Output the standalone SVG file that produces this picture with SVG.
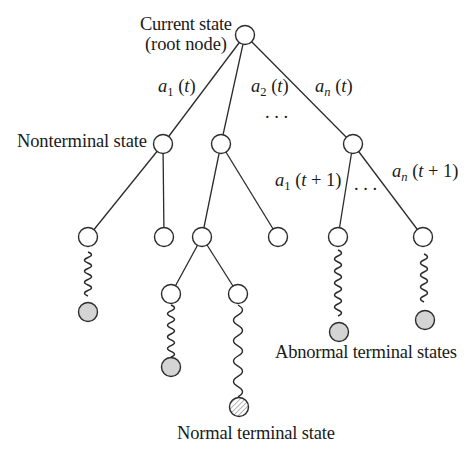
<svg xmlns="http://www.w3.org/2000/svg" width="474" height="457" viewBox="0 0 474 457">
<style>
  .edge { stroke:#2b2b2b; stroke-width:1.3; fill:none; }
  .wave { stroke:#2b2b2b; stroke-width:1.4; fill:none; }
  .node { stroke:#2b2b2b; stroke-width:1.4; fill:#ffffff; }
  .abn { stroke:#2b2b2b; stroke-width:1.4; fill:#d4d4d4; }
  .norm { stroke:#2b2b2b; stroke-width:1.4; fill:url(#hatch); }
  text { font-family:"Liberation Serif","Times New Roman",serif; font-size:18.5px; fill:#1a1a1a; }
  .it { font-style:italic; }
  .sub { font-size:12.5px; }
</style>
<defs>
  <pattern id="hatch" patternUnits="userSpaceOnUse" width="3.5" height="3.5" patternTransform="rotate(45)">
    <rect width="3.5" height="3.5" fill="#ffffff"/>
    <line x1="0" y1="0" x2="0" y2="3.5" stroke="#8a8a8a" stroke-width="1.2"/>
  </pattern>
</defs>
<g id="connectors">
  <line class="edge" x1="245" y1="35" x2="163" y2="144"/>
  <line class="edge" x1="245" y1="35" x2="221" y2="144"/>
  <line class="edge" x1="245" y1="35" x2="353" y2="144"/>
  <line class="edge" x1="163" y1="144" x2="88" y2="237"/>
  <line class="edge" x1="163" y1="144" x2="164" y2="237"/>
  <line class="edge" x1="221" y1="144" x2="202" y2="237"/>
  <line class="edge" x1="221" y1="144" x2="278" y2="237"/>
  <line class="edge" x1="353" y1="144" x2="338" y2="237"/>
  <line class="edge" x1="353" y1="144" x2="423" y2="237"/>
  <line class="edge" x1="202" y1="237" x2="171" y2="294"/>
  <line class="edge" x1="202" y1="237" x2="238" y2="294"/>
  <path class="wave" d="M88 252 q7 2.75 0 5.5 t0 5.5 t0 5.5 t0 5.5 t0 5.5 t0 5.5 t0 5.5 t0 5.5"/>
  <path class="wave" d="M171 305 q7 2.9 0 5.8 t0 5.8 t0 5.8 t0 5.8 t0 5.8 t0 5.8 t0 5.8 t0 5.8 t0 5.8"/>
  <path class="wave" d="M238 305 q9 5.1 0 10.2 t0 10.2 t0 10.2 t0 10.2 t0 10.2 t0 10.2 t0 10.2 t0 10.2 t0 10.2"/>
  <path class="wave" d="M338 250 q7 3 0 6 t0 6 t0 6 t0 6 t0 6 t0 6 t0 6 t0 6 t0 6 t0 6 t0 6"/>
  <path class="wave" d="M424 254 q7 3 0 6 t0 6 t0 6 t0 6 t0 6 t0 6 t0 6 t0 6"/>
</g>
<g id="root"><circle class="node" cx="245" cy="35" r="9.5"/></g>
<g id="n1"><circle class="node" cx="163" cy="144" r="9.5"/></g>
<g id="n2"><circle class="node" cx="221" cy="144" r="9.5"/></g>
<g id="n3"><circle class="node" cx="353" cy="144" r="9.5"/></g>
<g id="n11"><circle class="node" cx="88" cy="237" r="9.5"/></g>
<g id="n12"><circle class="node" cx="164" cy="237" r="9.5"/></g>
<g id="n21"><circle class="node" cx="202" cy="237" r="9.5"/></g>
<g id="n22"><circle class="node" cx="278" cy="237" r="9.5"/></g>
<g id="n31"><circle class="node" cx="338" cy="237" r="9.5"/></g>
<g id="n32"><circle class="node" cx="423" cy="237" r="9.5"/></g>
<g id="n211"><circle class="node" cx="171" cy="294" r="9.5"/></g>
<g id="n212"><circle class="node" cx="238" cy="294" r="9.5"/></g>
<g id="t1"><circle class="abn" cx="88" cy="312" r="9.5"/></g>
<g id="t2"><circle class="abn" cx="171" cy="367" r="9.5"/></g>
<g id="t3"><circle class="norm" cx="239" cy="407" r="9.5"/></g>
<g id="t4"><circle class="abn" cx="339" cy="332" r="9.5"/></g>
<g id="t5"><circle class="abn" cx="425" cy="320" r="9.5"/></g>
<g id="labels">
  <text x="140" y="30" textLength="92">Current state</text>
  <text x="145" y="50" textLength="82">(root node)</text>
  <text x="17" y="147" textLength="130">Nonterminal state</text>
  <text x="158" y="92"><tspan class="it">a</tspan><tspan class="sub" dy="4">1</tspan><tspan dy="-4"> (</tspan><tspan class="it">t</tspan>)</text>
  <text x="251" y="92"><tspan class="it">a</tspan><tspan class="sub" dy="4">2</tspan><tspan dy="-4"> (</tspan><tspan class="it">t</tspan>)</text>
  <text x="315" y="92"><tspan class="it">a</tspan><tspan class="sub it" dy="4">n</tspan><tspan dy="-4"> (</tspan><tspan class="it">t</tspan>)</text>
  <text x="265" y="118">. . .</text>
  <text x="275" y="186"><tspan class="it">a</tspan><tspan class="sub" dy="4">1</tspan><tspan dy="-4"> (</tspan><tspan class="it">t</tspan> + 1)</text>
  <text x="392" y="177"><tspan class="it">a</tspan><tspan class="sub it" dy="4">n</tspan><tspan dy="-4"> (</tspan><tspan class="it">t</tspan> + 1)</text>
  <text x="354" y="190">. . .</text>
  <text x="275" y="358" textLength="182">Abnormal terminal states</text>
  <text x="177" y="439" textLength="158">Normal terminal state</text>
</g>
</svg>
